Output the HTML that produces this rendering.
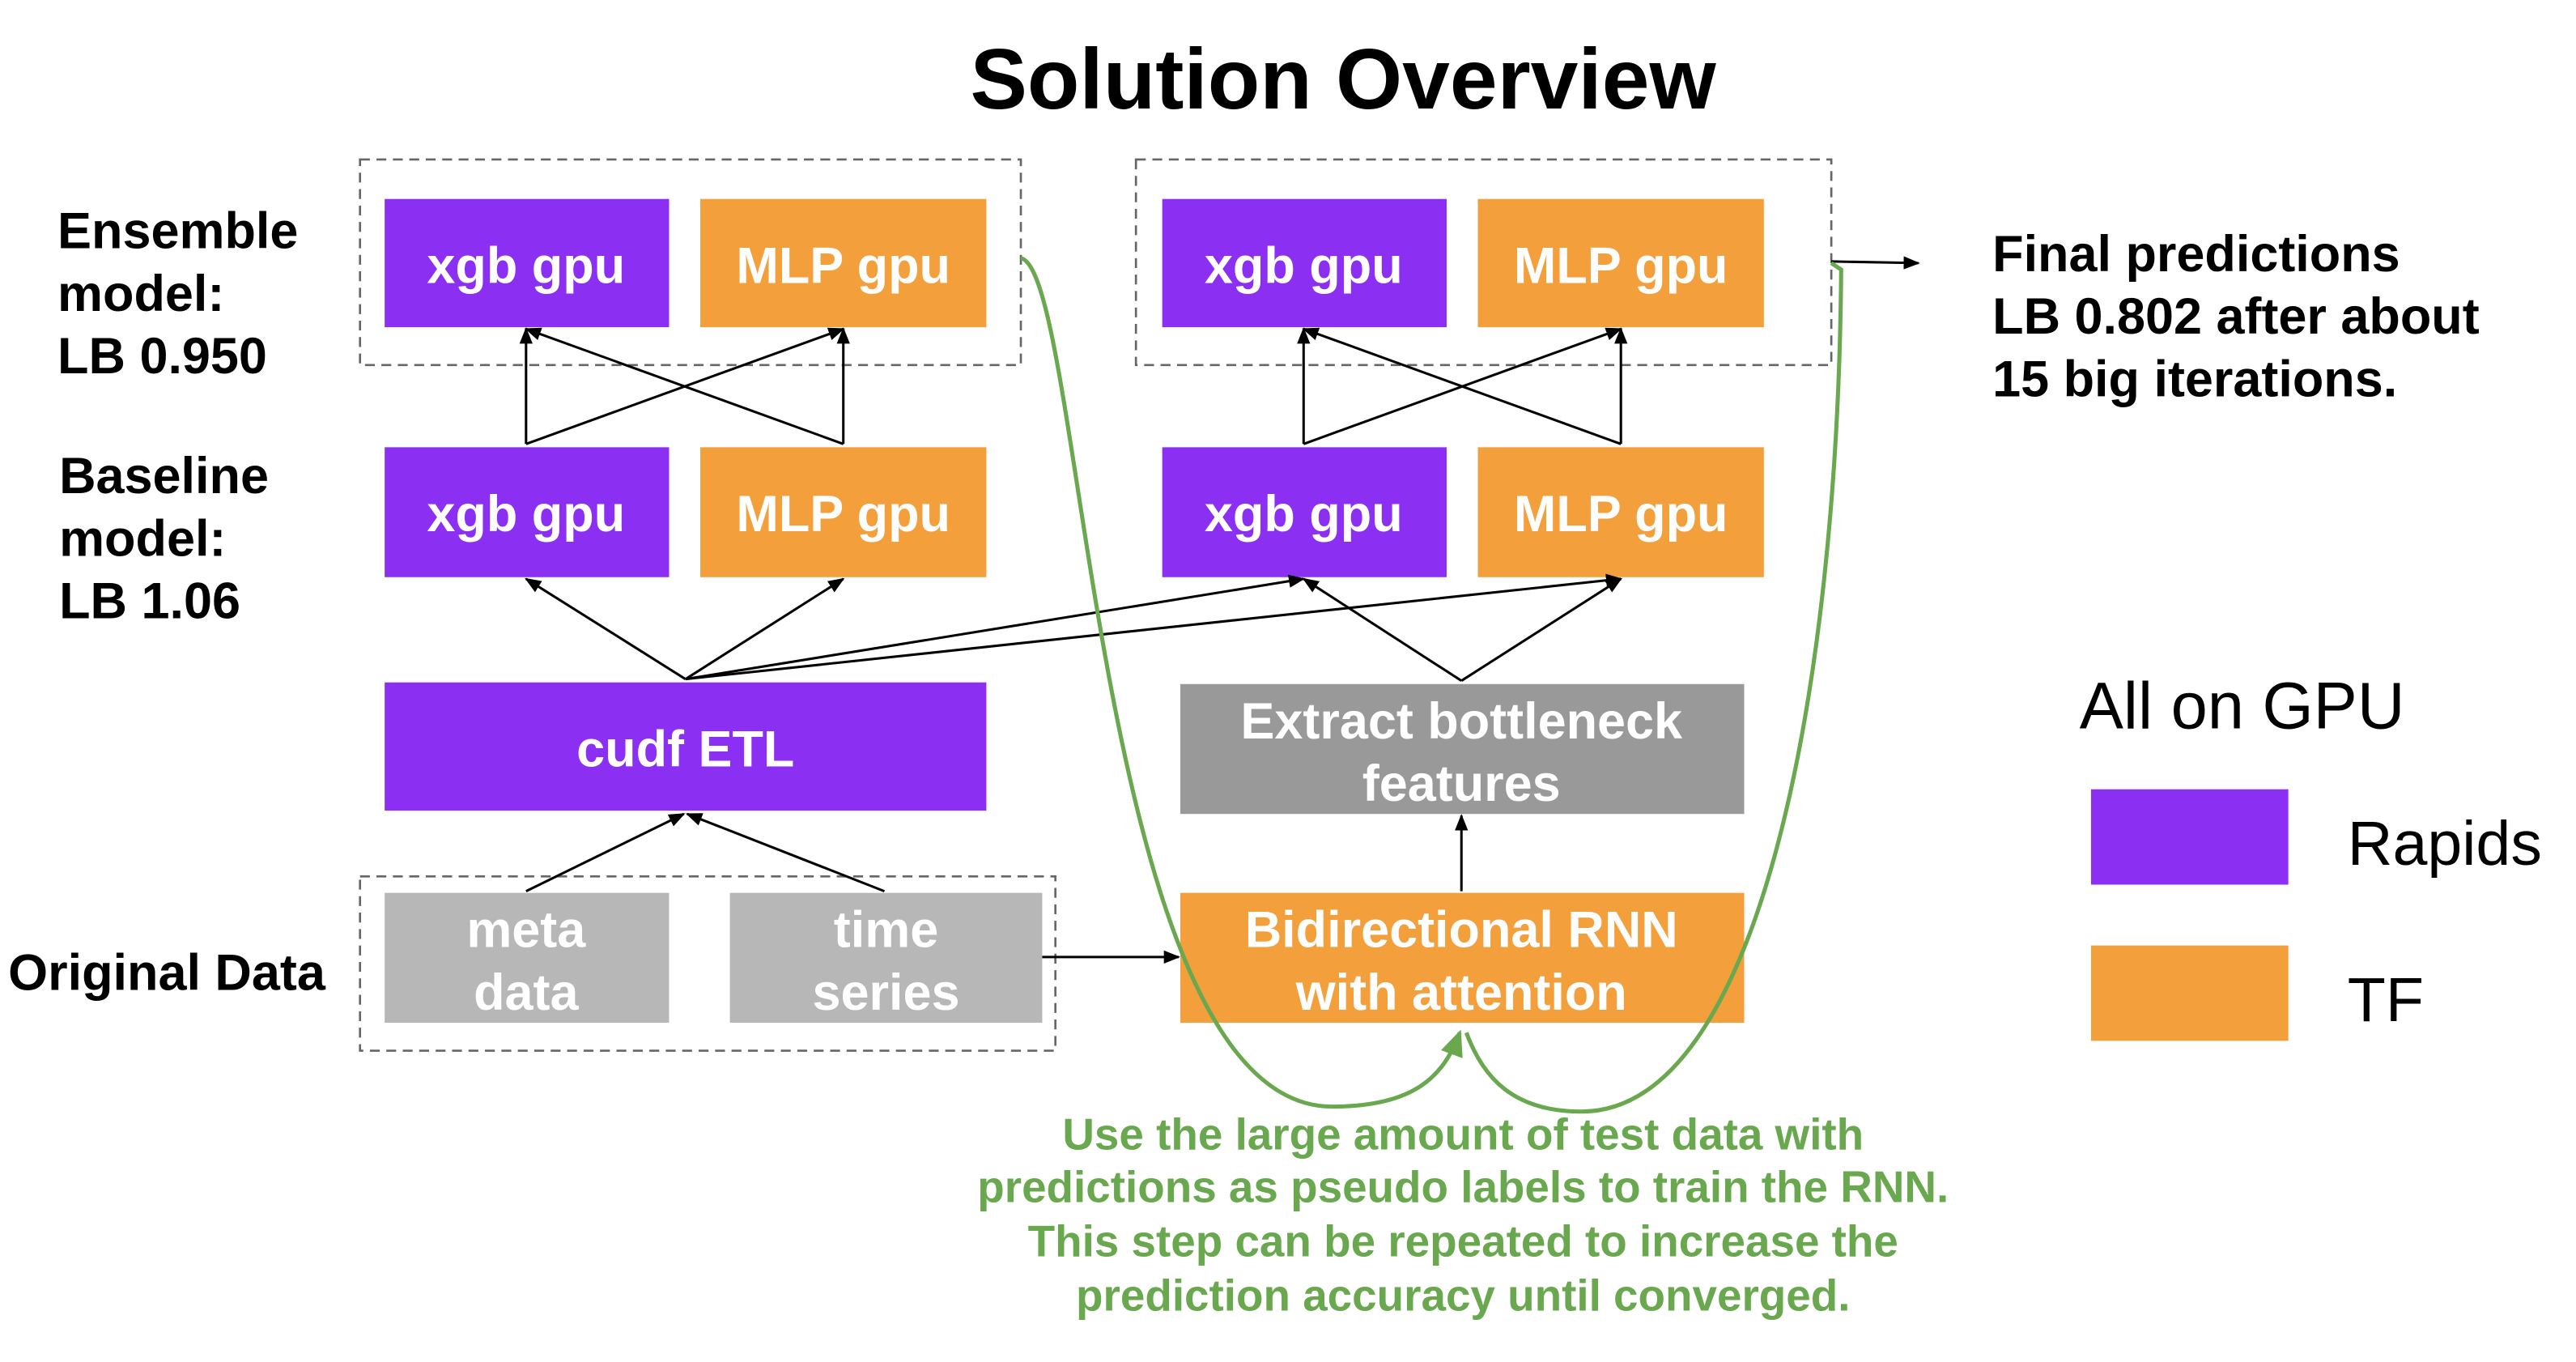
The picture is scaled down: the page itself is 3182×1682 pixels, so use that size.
<!DOCTYPE html>
<html><head><meta charset="utf-8"><style>
html,body{margin:0;padding:0;background:#fff;}
svg{display:block;}
text{font-family:"Liberation Sans",Arial,sans-serif;}
</style></head><body>
<svg width="3182" height="1682" viewBox="0 0 1567 828.3" preserveAspectRatio="none" xmlns="http://www.w3.org/2000/svg">
<defs>
<marker id="a" markerWidth="10" markerHeight="8" refX="9" refY="4" orient="auto" markerUnits="userSpaceOnUse"><path d="M0,0 L10,4 L0,8 Z" fill="#000"/></marker>
<marker id="g" markerWidth="16" markerHeight="14" refX="14" refY="7" orient="auto" markerUnits="userSpaceOnUse"><path d="M0,0 L16,7 L0,14 Z" fill="#6aa84f"/></marker>
</defs>
<rect width="1567" height="829" fill="#fff"/>
<text x="817" y="66" font-size="52" font-weight="bold" text-anchor="middle" fill="#000">Solution Overview</text>

<g fill="none" stroke="#666" stroke-width="1.3" stroke-dasharray="6,4">
<rect x="219" y="97" width="402" height="125"/>
<rect x="691" y="97" width="423" height="125"/>
<rect x="219" y="533" width="423" height="106"/>
</g>

<g font-size="31" font-weight="bold" fill="#fff" text-anchor="middle">
<rect x="234" y="121" width="173" height="78" fill="#8b2ff2"/><text x="320" y="172">xgb gpu</text>
<rect x="426" y="121" width="174" height="78" fill="#f39f3c"/><text x="513" y="172">MLP gpu</text>
<rect x="234" y="272" width="173" height="79" fill="#8b2ff2"/><text x="320" y="323">xgb gpu</text>
<rect x="426" y="272" width="174" height="79" fill="#f39f3c"/><text x="513" y="323">MLP gpu</text>
<rect x="707" y="121" width="173" height="78" fill="#8b2ff2"/><text x="793" y="172">xgb gpu</text>
<rect x="899" y="121" width="174" height="78" fill="#f39f3c"/><text x="986" y="172">MLP gpu</text>
<rect x="707" y="272" width="173" height="79" fill="#8b2ff2"/><text x="793" y="323">xgb gpu</text>
<rect x="899" y="272" width="174" height="79" fill="#f39f3c"/><text x="986" y="323">MLP gpu</text>
<rect x="234" y="415" width="366" height="78" fill="#8b2ff2"/><text x="417" y="466">cudf ETL</text>
<rect x="234" y="543" width="173" height="79" fill="#b7b7b7"/><text x="320" y="576">meta</text><text x="320" y="614">data</text>
<rect x="444" y="543" width="190" height="79" fill="#b7b7b7"/><text x="539" y="576">time</text><text x="539" y="614">series</text>
<rect x="718" y="416" width="343" height="79" fill="#999999"/><text x="889" y="449">Extract bottleneck</text><text x="889" y="487">features</text>
<rect x="718" y="543" width="343" height="79" fill="#f39f3c"/><text x="889" y="576">Bidirectional RNN</text><text x="889" y="614">with attention</text>
</g>

<g font-size="31" font-weight="bold" fill="#000">
<text x="35" y="151">Ensemble</text><text x="35" y="189">model:</text><text x="35" y="227">LB 0.950</text>
<text x="36" y="300">Baseline</text><text x="36" y="338">model:</text><text x="36" y="376">LB 1.06</text>
<text x="5" y="602">Original Data</text>
<text x="1212" y="165">Final predictions</text><text x="1212" y="203">LB 0.802 after about</text><text x="1212" y="241">15 big iterations.</text>
</g>

<text x="1265" y="443" font-size="40" fill="#000">All on GPU</text>
<rect x="1272" y="480" width="120" height="58" fill="#8b2ff2"/>
<rect x="1272" y="575" width="120" height="58" fill="#f39f3c"/>
<text x="1428" y="526" font-size="38" fill="#000">Rapids</text>
<text x="1428" y="621" font-size="38" fill="#000">TF</text>

<g stroke="#000" stroke-width="1.5" fill="none" marker-end="url(#a)">
<line x1="320" y1="270" x2="320" y2="200"/>
<line x1="320" y1="270" x2="513" y2="200"/>
<line x1="513" y1="270" x2="513" y2="200"/>
<line x1="513" y1="270" x2="320" y2="200"/>
<line x1="793" y1="270" x2="793" y2="200"/>
<line x1="793" y1="270" x2="986" y2="200"/>
<line x1="986" y1="270" x2="986" y2="200"/>
<line x1="986" y1="270" x2="793" y2="200"/>
<line x1="417" y1="413" x2="320" y2="352"/>
<line x1="417" y1="413" x2="513" y2="352"/>
<line x1="417" y1="413" x2="793" y2="352"/>
<line x1="417" y1="413" x2="986" y2="352"/>
<line x1="889" y1="414" x2="793" y2="352"/>
<line x1="889" y1="414" x2="986" y2="352"/>
<line x1="889" y1="542" x2="889" y2="496"/>
<line x1="320" y1="542" x2="416" y2="495"/>
<line x1="538" y1="542" x2="418" y2="495"/>
<line x1="634" y1="582" x2="717" y2="582"/>
<line x1="1114" y1="159" x2="1167" y2="160"/>
</g>

<g stroke="#6aa84f" stroke-width="2.5" fill="none">
<path d="M621,157 C660,165 665,672 810,673 C860,673 878,655 888,628" marker-end="url(#g)"/>
<path d="M1114,160 L1120,164 C1118,420 1070,676 962,676 C920,676 902,655 892,628"/>
</g>

<g font-size="27" font-weight="bold" fill="#6aa84f" text-anchor="middle">
<text x="890" y="699">Use the large amount of test data with</text>
<text x="890" y="731">predictions as pseudo labels to train the RNN.</text>
<text x="890" y="764">This step can be repeated to increase the</text>
<text x="890" y="797">prediction accuracy until converged.</text>
</g>
</svg>
</body></html>
